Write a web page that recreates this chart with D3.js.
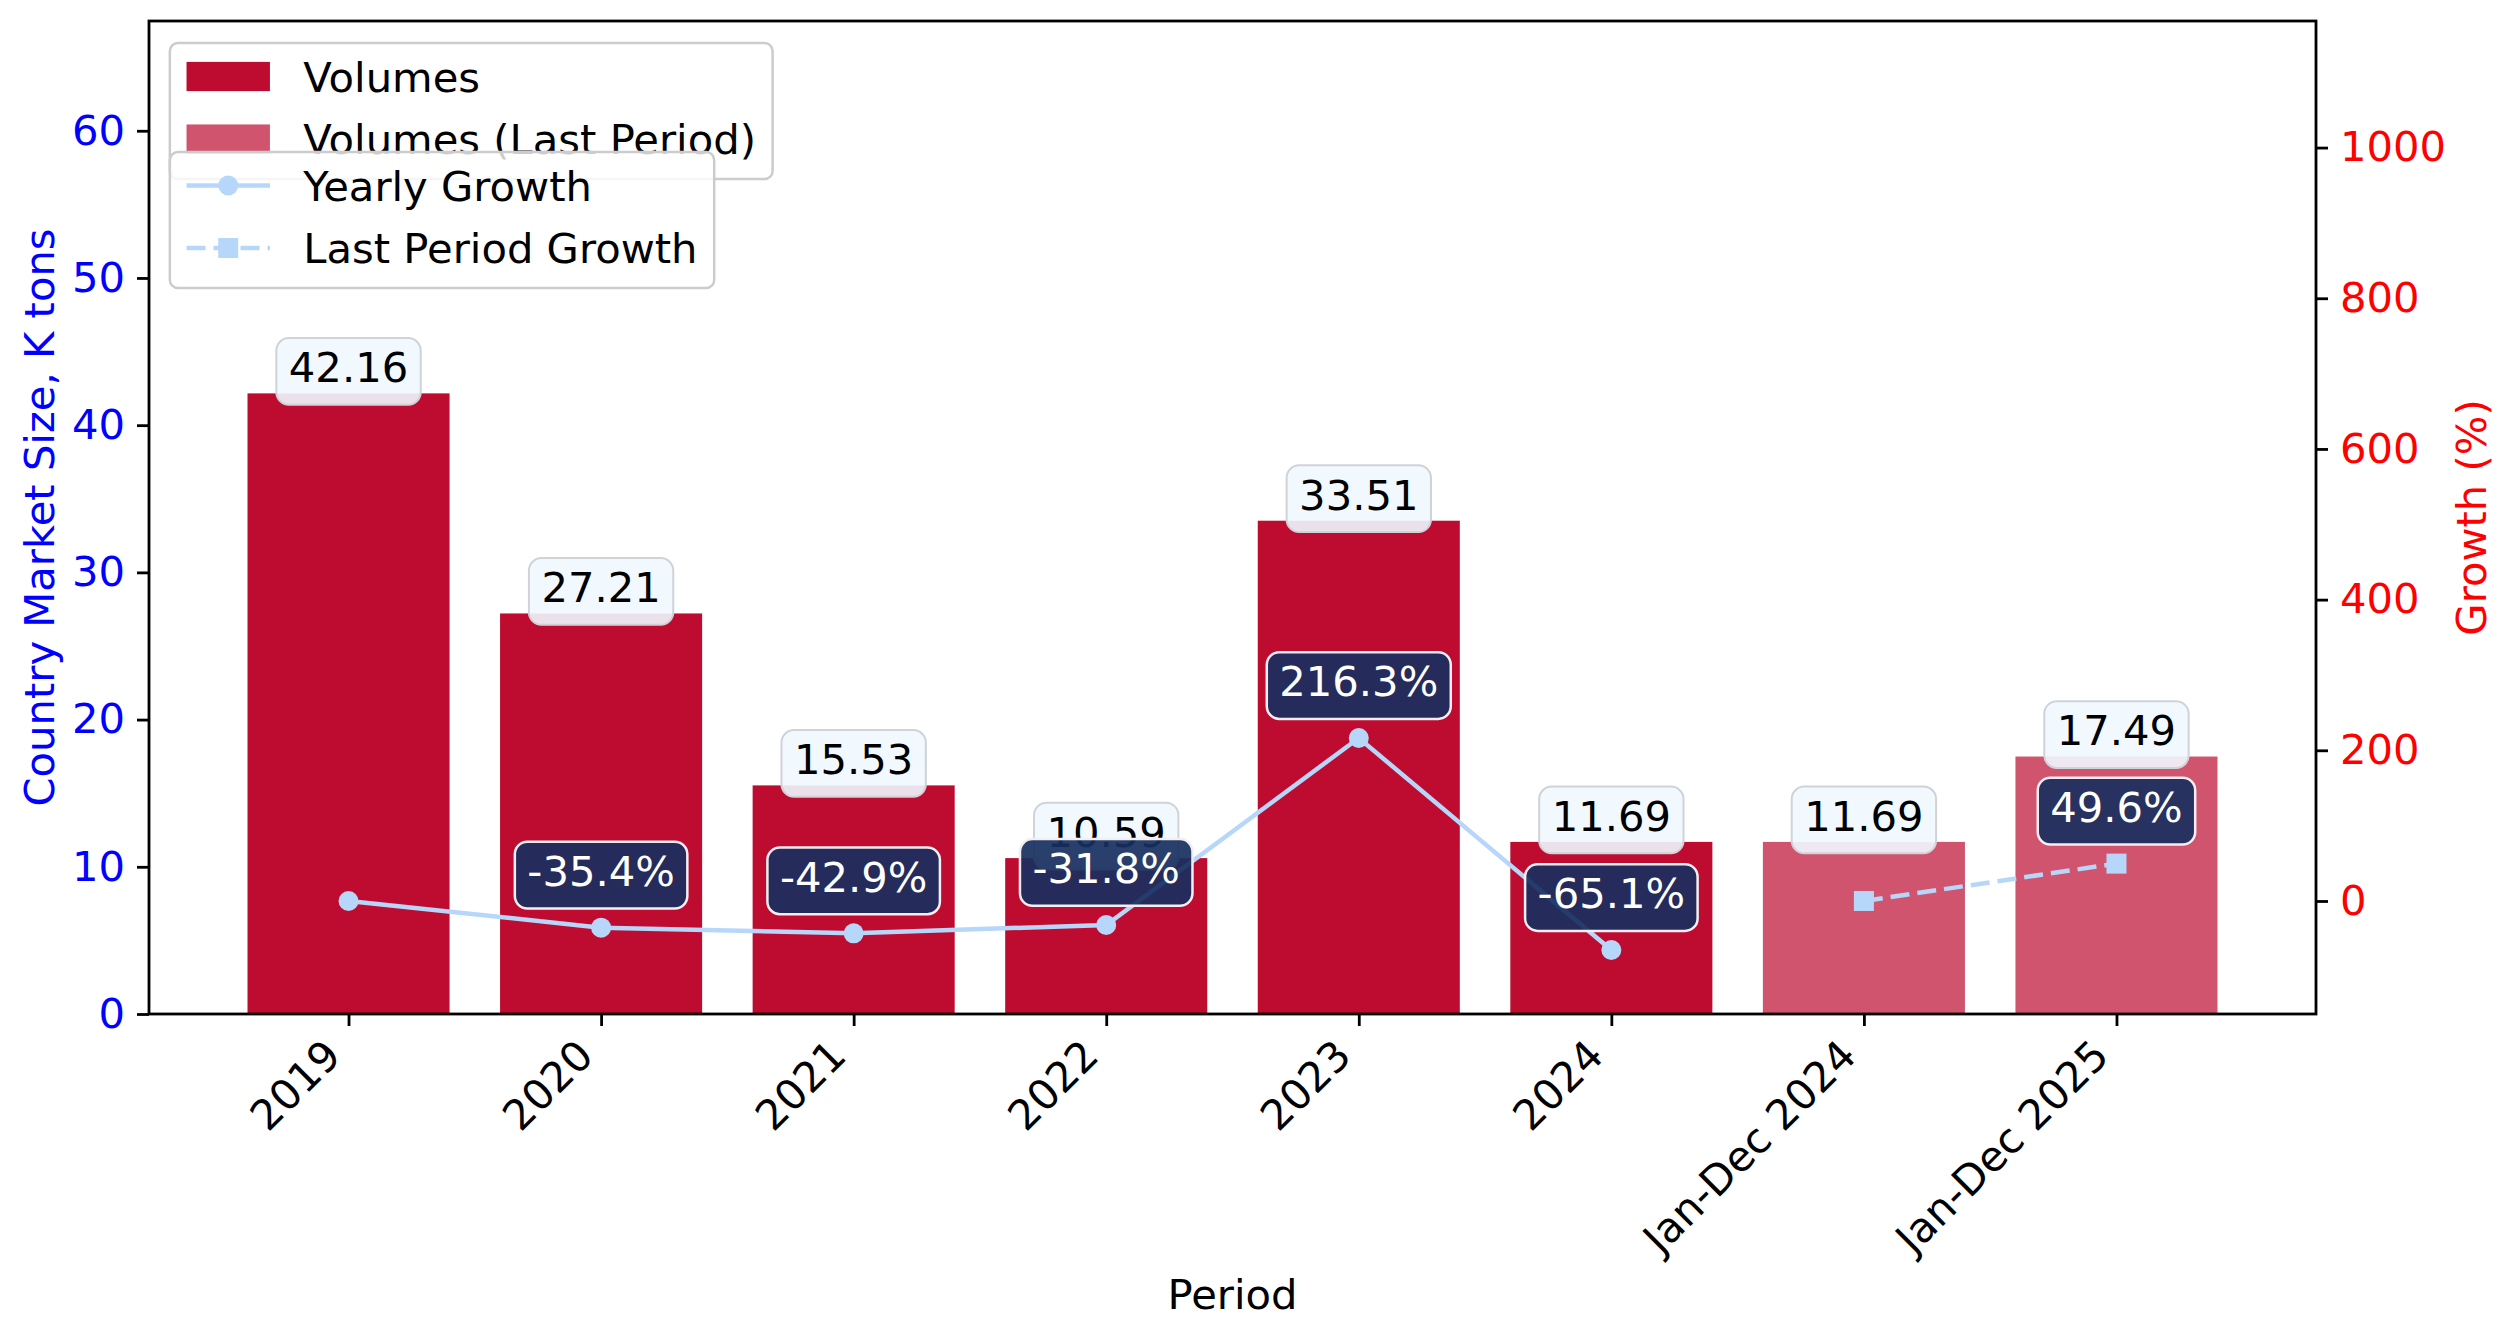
<html>
<head>
<meta charset="UTF-8">
<title>Country Market Size</title>
<script src="https://d3js.org/d3.v7.min.js"></script>
<style type="text/css">
  body { margin: 0; background: #fff; }
  svg text { font-family: "DejaVu Sans", sans-serif; }
</style>
</head>
<body>
<div id="chart"></div>
<script type="text/javascript">

// ---- data ----
const periods = ["2019", "2020", "2021", "2022", "2023", "2024", "Jan-Dec 2024", "Jan-Dec 2025"];
const volumes = [42.16, 27.21, 15.53, 10.59, 33.51, 11.69, 11.69, 17.49];
const lastPeriod = [false, false, false, false, false, false, true, true];
const yearlyGrowth = [0, -35.4, -42.9, -31.8, 216.3, -65.1];   // 2019 .. 2024
const lastPeriodGrowth = [0, 49.6];                               // Jan-Dec 2024, Jan-Dec 2025
const leftTicks = [0, 10, 20, 30, 40, 50, 60];
const rightTicks = [0, 200, 400, 600, 800, 1000];
const legendBars = ["Volumes", "Volumes (Last Period)"];
const legendLines = ["Yearly Growth", "Last Period Growth"];

const width = 2517, height = 1338,
	axLeft = 149, axRight = 2316, axTop = 21, axBottom = 1014,
	fs = 41.7,
	barColor = "#be0c30",
	lineColor = "#b6d6fa",
	navy = "#18305f";

const svg = d3.select("#chart").append("svg")
	.attr("width", width)
	.attr("height", height);

const x = d3.scaleLinear().domain([-0.79, 7.79]).range([axLeft, axRight]);
const yL = d3.scaleLinear().domain([0, 42.16 * 1.6]).range([axBottom, axTop]);
const yR = d3.scaleLinear().domain([-150, 1168]).range([axBottom, axTop]);

// label with a rounded box behind it (cy is the box centre)
function boxLabel(g, cx, cy, txt, textColor, fill, stroke, sw, op) {
	const grp = g.append("g");
	const t = grp.append("text")
		.attr("x", cx)
		.attr("y", cy + 0.26 * fs)
		.attr("text-anchor", "middle")
		.style("font-size", fs + "px")
		.attr("fill", textColor)
		.text(txt);
	const w = t.node().getComputedTextLength();
	const pad = 0.3 * fs;
	grp.insert("rect", "text")
		.attr("x", cx - w / 2 - pad)
		.attr("y", cy - fs / 2 - pad)
		.attr("width", w + 2 * pad)
		.attr("height", fs + 2 * pad)
		.attr("rx", pad).attr("ry", pad)
		.attr("fill", fill)
		.attr("fill-opacity", op)
		.attr("stroke", stroke)
		.attr("stroke-width", sw);
}

// ---- bars ----
svg.append("g").selectAll("rect")
	.data(volumes)
	.enter().append("rect")
	.attr("x", (d, i) => x(i - 0.4))
	.attr("width", x(0.8) - x(0))
	.attr("y", d => yL(d))
	.attr("height", d => axBottom - yL(d))
	.attr("fill", barColor)
	.attr("fill-opacity", (d, i) => lastPeriod[i] ? 0.7 : 1);

// volume labels
const volLabels = svg.append("g");
volumes.forEach(function(v, i) {
	boxLabel(volLabels, x(i), yL(v) - 22, v.toFixed(2), "#000", "#f0f8ff", "#cfd3d8", 2, 0.9);
});

// legend builder
function legend(items, fy, drawHandle) {
	const g = svg.append("g");
	const fx = axLeft + 0.5 * fs;
	const frame = g.append("rect");
	const hx = fx + 0.4 * fs;
	const rowH = 1.5 * fs;
	let maxW = 0;
	items.forEach(function(label, k) {
		const cy = fy + 33.5 + k * rowH;
		drawHandle(g, hx, hx + 2 * fs, cy, k);
		const t = g.append("text")
			.attr("x", hx + 2.8 * fs)
			.attr("y", cy + 15)
			.style("font-size", fs + "px")
			.text(label);
		maxW = Math.max(maxW, t.node().getComputedTextLength());
	});
	frame.attr("x", fx).attr("y", fy)
		.attr("width", 3.6 * fs + maxW)
		.attr("height", 33.5 + (items.length - 1) * rowH + 40)
		.attr("rx", 8).attr("ry", 8)
		.attr("fill", "#fff").attr("fill-opacity", 0.8)
		.attr("stroke", "#cccccc").attr("stroke-width", 2.5);
}

legend(legendBars, 43, function(g, x0, x1, cy, k) {
	g.append("rect")
		.attr("x", x0).attr("y", cy - 0.35 * fs)
		.attr("width", x1 - x0).attr("height", 0.7 * fs)
		.attr("fill", barColor)
		.attr("fill-opacity", k == 1 ? 0.7 : 1);
});

// ---- growth lines (secondary axis) ----
const line = d3.line().x(d => x(d[0])).y(d => yR(d[1]));
const yearly = yearlyGrowth.map((g, i) => [i, g]);
const lastp = lastPeriodGrowth.map((g, i) => [i + 6, g]);

svg.append("path")
	.attr("d", line(yearly))
	.attr("fill", "none")
	.attr("stroke", lineColor)
	.attr("stroke-width", 4.5);
svg.append("g").selectAll("circle")
	.data(yearly)
	.enter().append("circle")
	.attr("cx", d => x(d[0]))
	.attr("cy", d => yR(d[1]))
	.attr("r", 10)
	.attr("fill", lineColor);

svg.append("path")
	.attr("d", line(lastp))
	.attr("fill", "none")
	.attr("stroke", lineColor)
	.attr("stroke-width", 4.5)
	.attr("stroke-dasharray", "19,8");
svg.append("g").selectAll("rect")
	.data(lastp)
	.enter().append("rect")
	.attr("x", d => x(d[0]) - 10)
	.attr("y", d => yR(d[1]) - 10)
	.attr("width", 20).attr("height", 20)
	.attr("fill", lineColor);

// growth labels (skip the zero base points)
const growLabels = svg.append("g");
yearly.concat(lastp).forEach(function(d) {
	if (d[1] === 0) return;
	boxLabel(growLabels, x(d[0]), yR(d[1]) - 52.5, d[1].toFixed(1) + "%", "#fff", navy, "#f4eef2", 2.5, 0.92);
});

legend(legendLines, 152, function(g, x0, x1, cy, k) {
	g.append("line")
		.attr("x1", x0).attr("x2", x1).attr("y1", cy).attr("y2", cy)
		.attr("stroke", lineColor).attr("stroke-width", 4.5)
		.attr("stroke-dasharray", k == 1 ? "19,8" : null);
	const mx = (x0 + x1) / 2;
	if (k == 0) {
		g.append("circle").attr("cx", mx).attr("cy", cy).attr("r", 10).attr("fill", lineColor);
	} else {
		g.append("rect").attr("x", mx - 10).attr("y", cy - 10).attr("width", 20).attr("height", 20).attr("fill", lineColor);
	}
});

// ---- axes ----
const axL = svg.append("g")
	.attr("transform", "translate(" + axLeft + ",0)")
	.call(d3.axisLeft(yL).tickValues(leftTicks).tickFormat(d => d).tickSize(12).tickPadding(12).tickSizeOuter(0));
axL.selectAll("text").attr("fill", "#0000ff").style("font-size", fs + "px");

const axR = svg.append("g")
	.attr("transform", "translate(" + axRight + ",0)")
	.call(d3.axisRight(yR).tickValues(rightTicks).tickFormat(d => d).tickSize(12).tickPadding(12).tickSizeOuter(0));
axR.selectAll("text").attr("fill", "#ff0000").style("font-size", fs + "px");

const axB = svg.append("g")
	.attr("transform", "translate(0," + axBottom + ")")
	.call(d3.axisBottom(x).tickValues(d3.range(periods.length)).tickFormat(i => periods[i]).tickSize(12).tickSizeOuter(0));
axB.selectAll("text")
	.attr("fill", "#000")
	.style("font-size", fs + "px")
	.attr("text-anchor", "end")
	.attr("dy", null)
	.attr("x", -6)
	.attr("y", 44)
	.attr("transform", "rotate(-45,-6,44)");

[axL, axR, axB].forEach(function(a) {
	a.select(".domain").remove();
	a.selectAll(".tick line").attr("stroke", "#000").attr("stroke-width", 2.8);
	a.attr("font-family", null);
});

// frame (spines)
svg.append("rect")
	.attr("x", axLeft).attr("y", axTop)
	.attr("width", axRight - axLeft).attr("height", axBottom - axTop)
	.attr("fill", "none")
	.attr("stroke", "#000")
	.attr("stroke-width", 2.8);

// axis titles
svg.append("text")
	.attr("transform", "translate(54," + (axTop + axBottom) / 2 + ") rotate(-90)")
	.attr("text-anchor", "middle")
	.style("font-size", fs + "px")
	.attr("fill", "#0000ff")
	.text("Country Market Size, K tons");

svg.append("text")
	.attr("transform", "translate(2486," + (axTop + axBottom) / 2 + ") rotate(-90)")
	.attr("text-anchor", "middle")
	.style("font-size", fs + "px")
	.attr("fill", "#ff0000")
	.text("Growth (%)");

svg.append("text")
	.attr("x", (axLeft + axRight) / 2)
	.attr("y", 1309)
	.attr("text-anchor", "middle")
	.style("font-size", fs + "px")
	.attr("fill", "#000")
	.text("Period");

</script>
</body>
</html>
